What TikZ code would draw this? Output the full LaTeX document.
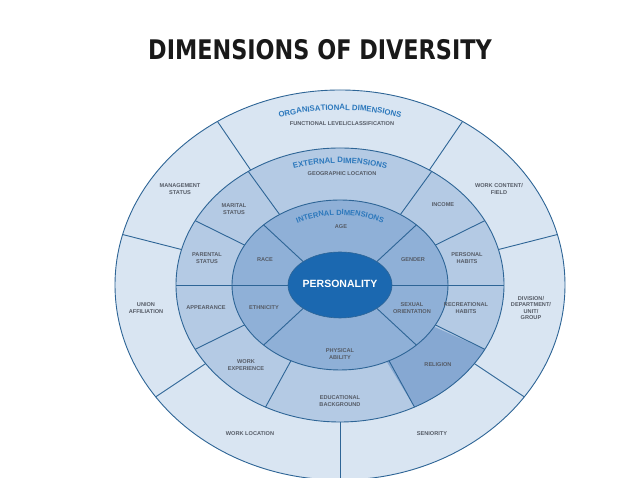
\documentclass[tikz,border=0pt]{standalone}
\usepackage{fontspec}
\setmainfont{Liberation Sans}
\newfontfamily\titlefont{DejaVu Sans Condensed}
\usetikzlibrary{calc,decorations.text}
\definecolor{lineC}{HTML}{2E6596}
\definecolor{outerC}{HTML}{D9E5F2}
\definecolor{extC}{HTML}{B4CAE4}
\definecolor{intC}{HTML}{8FB0D7}
\definecolor{relC}{HTML}{86A8D2}
\definecolor{persC}{HTML}{1B68B0}
\definecolor{labC}{HTML}{555B66}
\definecolor{headC}{HTML}{2C78BC}
\tikzset{
  lab/.style={font=\fontsize{5.6}{6.6}\selectfont\bfseries, text=labC, align=center, inner sep=0pt},
  ring/.style={draw=lineC, line width=0.9pt},
  divl/.style={draw=lineC, line width=0.9pt},
}
\begin{document}
\begin{tikzpicture}[x=1pt,y=1pt]
\useasboundingbox[fill=white] (0,0) rectangle (638,478);
\coordinate (C) at (340,193);
\node[font=\titlefont\bfseries\fontsize{27}{30}\selectfont, xscale=0.92, text=black!90] (title) at (320,428) {DIMENSIONS OF DIVERSITY};
% fills
\fill[outerC] (C) ellipse[x radius=225, y radius=195];
\fill[extC] (C) ellipse[x radius=164, y radius=137];
\fill[relC] (C) -- ($(C)+(297:164 and 137)$) arc[start angle=297,end angle=332,x radius=164,y radius=137] -- cycle;
\fill[intC] (C) ellipse[x radius=108, y radius=85];
\draw[ring] (C) ellipse[x radius=225, y radius=195];
\draw[ring] (C) ellipse[x radius=164, y radius=137];
\draw[ring] (C) ellipse[x radius=108, y radius=85];
% internal dividers
\foreach \t in {45,135,225,315,0,180}
  \draw[divl] ($(C)+(\t:52 and 33)$) -- ($(C)+(\t:108 and 85)$);
% external dividers
\foreach \t in {56,124,152,180,208,243,297,332,0,28}
  \draw[divl] ($(C)+(\t:108 and 85)$) -- ($(C)+(\t:164 and 137)$);
% outer dividers
\foreach \t in {57,123,165,215,270,325,15}
  \draw[divl] ($(C)+(\t:164 and 137)$) -- ($(C)+(\t:225 and 195)$);
\fill[persC] (C) ellipse[x radius=52, y radius=33];
\draw[lineC, line width=0.6pt] (C) ellipse[x radius=52, y radius=33];
\node[font=\fontsize{10.5}{12}\selectfont\bfseries, text=white] (pers) at (340,194) {PERSONALITY};
% curved headings
\path[decorate, decoration={text along path, text align=center, text={|\fontsize{7.8}{9}\selectfont\bfseries\color{headC}|ORGANISATIONAL DIMENSIONS}}]
  ($(C)+(118:205 and 175)$) arc[start angle=118,end angle=62,x radius=205,y radius=175];
\path[decorate, decoration={text along path, text align=center, text={|\fontsize{7.8}{9}\selectfont\bfseries\color{headC}|EXTERNAL DIMENSIONS}}]
  ($(C)+(125:150 and 122)$) arc[start angle=125,end angle=55,x radius=150,y radius=122];
\path[decorate, decoration={text along path, text align=center, text={|\fontsize{7.5}{9}\selectfont\bfseries\color{headC}|INTERNAL DIMENSIONS}}]
  ($(C)+(145:90 and 70)$) arc[start angle=145,end angle=35,x radius=90,y radius=70];
% labels (y = 478 - pixel y)
\node[lab] (fl) at (342,354) {FUNCTIONAL LEVEL/CLASSIFICATION};
\node[lab] (ms) at (180,289) {MANAGEMENT\\STATUS};
\node[lab] (wc) at (499,289) {WORK CONTENT/\\FIELD};
\node[lab] (ua) at (146,170) {UNION\\AFFILIATION};
\node[lab] (dd) at (531,170) {DIVISION/\\DEPARTMENT/\\UNIT/\\GROUP};
\node[lab] (wl) at (250,44) {WORK LOCATION};
\node[lab] (se) at (432,44) {SENIORITY};
\node[lab] (gl) at (342,304) {GEOGRAPHIC LOCATION};
\node[lab] (mst) at (234,269) {MARITAL\\STATUS};
\node[lab] (inc) at (443,273) {INCOME};
\node[lab] (ps) at (207,220) {PARENTAL\\STATUS};
\node[lab] (ph) at (467,220) {PERSONAL\\HABITS};
\node[lab] (ap) at (206,170) {APPEARANCE};
\node[lab] (rh) at (466,170) {RECREATIONAL\\HABITS};
\node[lab] (we) at (246,113) {WORK\\EXPERIENCE};
\node[lab] (re) at (438,113) {RELIGION};
\node[lab] (eb) at (340,77) {EDUCATIONAL\\BACKGROUND};
\node[lab] (age) at (341,251) {AGE};
\node[lab] (race) at (265,218) {RACE};
\node[lab] (gen) at (413,218) {GENDER};
\node[lab] (eth) at (264,170) {ETHNICITY};
\node[lab] (so) at (412,170) {SEXUAL\\ORIENTATION};
\node[lab] (pa) at (340,124) {PHYSICAL\\ABILITY};
\end{tikzpicture}
\end{document}
